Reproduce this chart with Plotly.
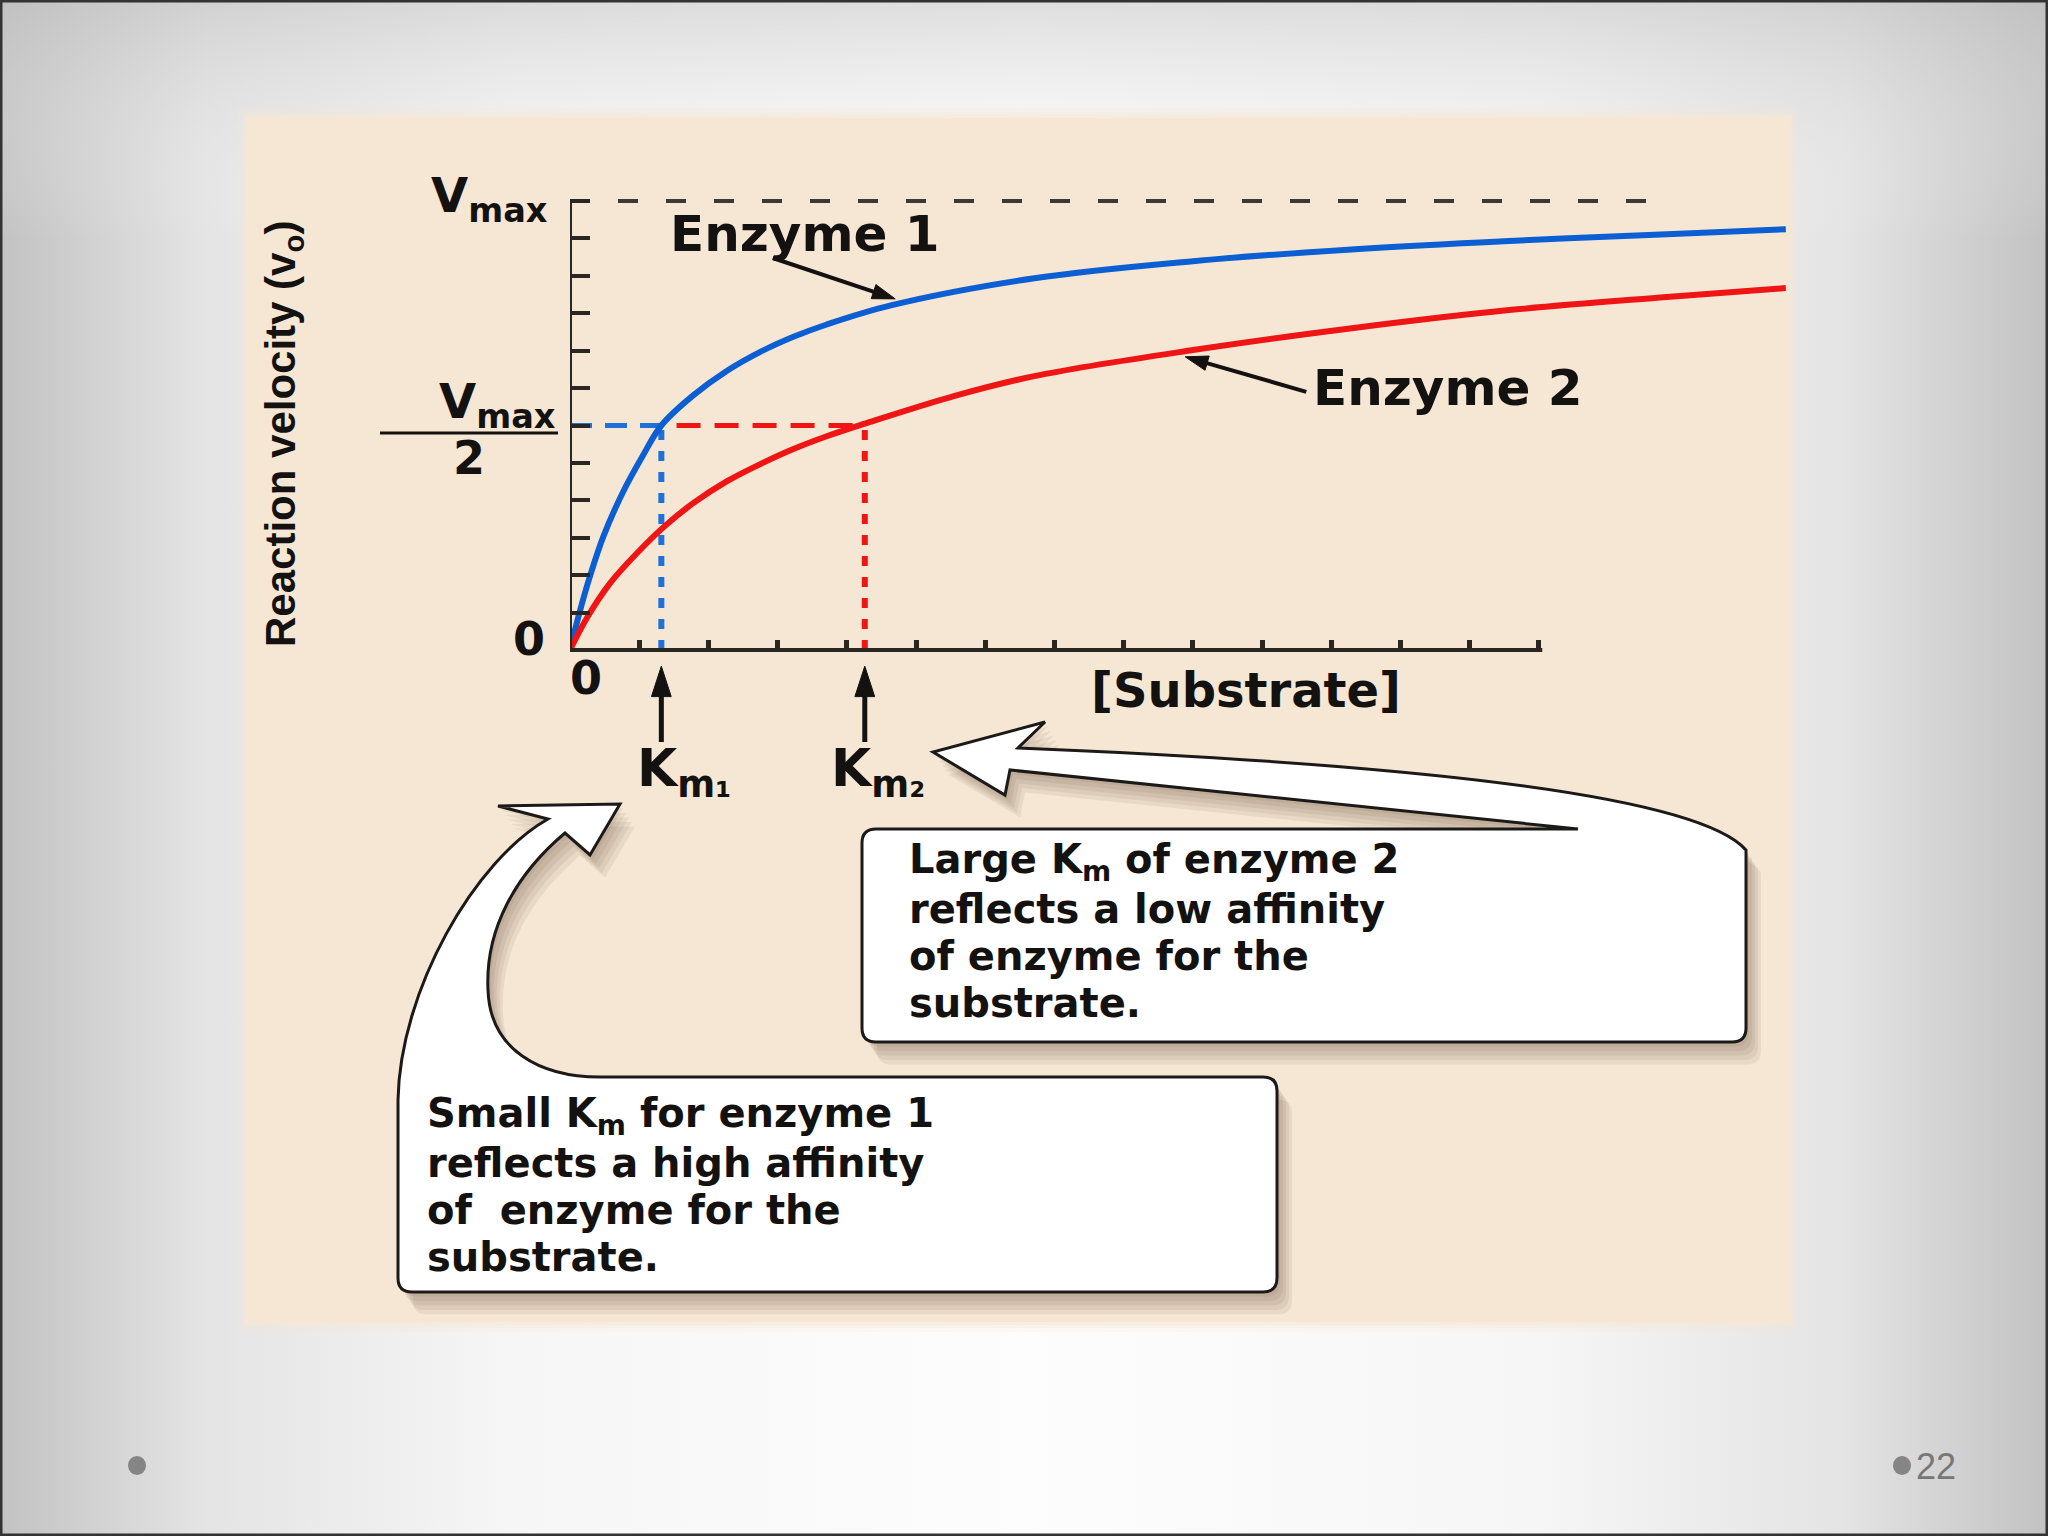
import plotly.graph_objects as go

# ---------------- data ----------------
substrate_ticks = list(range(1, 15))             # minor ticks on the [Substrate] axis
velocity_ticks = [k / 12 for k in range(1, 13)]  # minor ticks on the velocity axis
vmax = 1.0
half_vmax = 0.5
km1 = 1.32
km2 = 4.26
vmax_line_end = 15.74
x_axis_end = 14.05

enzyme1_s = [0, 0.14, 0.29, 0.48, 0.77, 1.05, 1.32, 1.78, 2.27, 2.75, 3.22, 3.71,
             4.65, 6.71, 9.0, 11.29, 13.57, 15.85, 17.57]
enzyme1_v = [0, 0.085, 0.165, 0.252, 0.353, 0.432, 0.500, 0.567, 0.622, 0.664, 0.697, 0.725,
             0.768, 0.828, 0.866, 0.892, 0.911, 0.926, 0.937]

enzyme2_s = [0, 0.25, 0.58, 0.97, 1.34, 1.78, 2.27, 2.75, 3.22, 3.71, 4.26,
             5.56, 6.71, 9.0, 11.27, 13.57, 15.85, 17.57]
enzyme2_v = [0, 0.073, 0.149, 0.216, 0.272, 0.327, 0.376, 0.414, 0.447, 0.476, 0.504,
             0.566, 0.610, 0.668, 0.716, 0.757, 0.786, 0.806]

series_names = ["Enzyme 1", "Enzyme 2"]
y_title = "Reaction velocity (v<sub>o</sub>)"
x_title = "[Substrate]"
vmax_label = "V<sub>max</sub>"
km_labels = ["K<sub>m₁</sub>", "K<sub>m₂</sub>"]
note_large = ["Large K<sub>m</sub> of enzyme 2",
              "reflects a low affinity",
              "of enzyme for the",
              "substrate."]
note_small = ["Small K<sub>m</sub> for enzyme 1",
              "reflects a high affinity",
              "of  enzyme for the",
              "substrate."]
page_number = "22"

# ---------------- layout constants ----------------
W, H = 2048, 1536
OX, OY = 570, 650        # pixel position of the chart origin
SX, SY = 69.2, 449       # pixels per data unit
XR = [0, 17.66]
YR = [-0.25, 1.03]

INK = "#141210"
AXIS = "#2a2622"
BLUE = "#0b5fd3"
BLUE_LIGHT = "#1f70d8"
RED = "#f01515"
BEIGE = "#f6e7d5"
FONT = "DejaVu Sans"

fig = go.Figure()

# slide background (pixel subplot, drawn first)
fig.add_trace(go.Scatter(
    x=[0, W, W, 0, 0], y=[0, 0, H, H, 0], xaxis="x", yaxis="y",
    mode="none", fill="toself", hoverinfo="skip", showlegend=False,
    fillgradient=dict(type="horizontal",
                      colorscale=[[0, "#c2c2c2"], [0.1, "#e4e4e4"], [0.25, "#f6f6f6"],
                                  [0.5, "#fdfdfd"], [0.75, "#f6f6f6"], [0.9, "#e4e4e4"],
                                  [1, "#c2c2c2"]])))
fig.add_trace(go.Scatter(
    x=[0, W, W, 0, 0], y=[0, 0, 240, 240, 0], xaxis="x", yaxis="y",
    mode="none", fill="toself", hoverinfo="skip", showlegend=False,
    fillgradient=dict(type="vertical", start=0, stop=240,
                      colorscale=[[0, "rgba(190,190,190,0.5)"], [1, "rgba(255,255,255,0)"]])))

# beige panel with soft edge
for grow, alpha in [(10, 0.18), (6, 0.3), (3, 0.5)]:
    x0, y0, x1, y1 = 248 - grow, 118 - grow, 1789 + grow, 1322 + grow
    fig.add_trace(go.Scatter(
        x=[x0, x1, x1, x0, x0], y=[y0, y0, y1, y1, y0], xaxis="x", yaxis="y",
        mode="none", fill="toself", fillcolor=f"rgba(246,231,213,{alpha})",
        hoverinfo="skip", showlegend=False))
fig.add_trace(go.Scatter(
    x=[248, 1789, 1789, 248, 248], y=[118, 118, 1322, 1322, 118], xaxis="x", yaxis="y",
    mode="none", fill="toself", fillcolor=BEIGE, hoverinfo="skip", showlegend=False))

# Michaelis-Menten curves
fig.add_trace(go.Scatter(x=enzyme1_s, y=enzyme1_v, xaxis="x2", yaxis="y2", mode="lines",
                         name=series_names[0], hoverinfo="skip", showlegend=False,
                         line=dict(color=BLUE, width=6, shape="spline", smoothing=1.0)))
fig.add_trace(go.Scatter(x=enzyme2_s, y=enzyme2_v, xaxis="x2", yaxis="y2", mode="lines",
                         name=series_names[1], hoverinfo="skip", showlegend=False,
                         line=dict(color=RED, width=6, shape="spline", smoothing=1.0)))


def arrow_trace(xs, ys, width, size):
    return go.Scatter(x=xs, y=ys, xaxis="x2", yaxis="y2", mode="lines+markers",
                      line=dict(color=INK, width=width), cliponaxis=False,
                      marker=dict(symbol="arrow", angleref="previous", size=[0, size],
                                  color=INK, opacity=1, line=dict(width=1, color=INK)),
                      hoverinfo="skip", showlegend=False)


# pointer arrows from the labels to the curves (tail -> tip)
fig.add_trace(arrow_trace([2.93, 4.70], [0.873, 0.782], 4, 24))
fig.add_trace(arrow_trace([10.64, 8.89], [0.575, 0.653], 4, 24))
# K_m arrows under the substrate axis
for km in (km1, km2):
    fig.add_trace(arrow_trace([km, km], [-0.205, -0.036], 5, 32))

shapes = []


def cline(x0, y0, x1, y1, color, width, dash=None, layer="below"):
    d = dict(type="line", xref="x2", yref="y2", x0=x0, y0=y0, x1=x1, y1=y1,
             line=dict(color=color, width=width), layer=layer)
    if dash:
        d["line"]["dash"] = dash
    return d


shapes.append(cline(0, vmax, vmax_line_end, vmax, "#3d3a36", 4, "20px,28px"))
shapes.append(cline(0, half_vmax, km1, half_vmax, BLUE_LIGHT, 5, "22px,13px"))
shapes.append(cline(km1 + 0.22, half_vmax, km2, half_vmax, RED, 5, "24px,14px"))
shapes.append(cline(km1, 0, km1, half_vmax, BLUE_LIGHT, 6, "10px,11px"))
shapes.append(cline(km2, 0, km2, half_vmax, RED, 6, "10px,11px"))
shapes.append(cline(0, 0, 0, vmax, AXIS, 4, layer="above"))
shapes.append(cline(0, 0, x_axis_end, 0, AXIS, 4, layer="above"))


def path(cmds, dx=0, dy=0):
    out = []
    for c, pts in cmds:
        if c == "Z":
            out.append("Z")
        else:
            out.append(c + " " + " ".join(f"{x + dx:.1f},{y + dy:.1f}" for x, y in pts))
    return " ".join(out)


callout_large = [("M", [(876, 829)]), ("L", [(1578, 829)]), ("L", [(1010, 770)]),
                 ("L", [(1005, 795)]), ("L", [(933, 752)]), ("L", [(1045, 722)]),
                 ("L", [(1018, 748)]), ("Q", [(1680, 775), (1746, 850)]),
                 ("L", [(1746, 1028)]), ("Q", [(1746, 1042), (1732, 1042)]),
                 ("L", [(876, 1042)]), ("Q", [(862, 1042), (862, 1028)]),
                 ("L", [(862, 843)]), ("Q", [(862, 829), (876, 829)]), ("Z", [])]
callout_small = [("M", [(398, 1100)]), ("C", [(400, 990), (475, 860), (548, 819)]),
                 ("L", [(498, 806)]), ("L", [(620, 804)]), ("L", [(590, 855)]),
                 ("L", [(565, 833)]), ("C", [(515, 875), (485, 930), (488, 990)]),
                 ("C", [(490, 1050), (540, 1077), (600, 1077)]), ("L", [(1263, 1077)]),
                 ("Q", [(1277, 1077), (1277, 1091)]), ("L", [(1277, 1278)]),
                 ("Q", [(1277, 1292), (1263, 1292)]), ("L", [(412, 1292)]),
                 ("Q", [(398, 1292), (398, 1278)]), ("Z", [])]

for cmds in (callout_small, callout_large):
    for k in range(1, 6):
        shapes.append(dict(type="path", xref="x", yref="y", path=path(cmds, 3 * k, 4.5 * k),
                           fillcolor="rgba(95,75,50,0.09)", line=dict(width=0), layer="above"))
for cmds in (callout_small, callout_large):
    shapes.append(dict(type="path", xref="x", yref="y", path=path(cmds),
                       fillcolor="white", line=dict(color="#1c1a18", width=3), layer="above"))

# fraction bar of Vmax/2
shapes.append(dict(type="line", xref="x", yref="y", x0=380, x1=558, y0=433, y1=433,
                   line=dict(color=INK, width=3), layer="above"))
# slide bullets and frame
for cx in (137, 1902):
    shapes.append(dict(type="circle", xref="x", yref="y", x0=cx - 9, x1=cx + 9,
                       y0=1456, y1=1475, fillcolor="#858585", line=dict(width=0), layer="above"))
shapes.append(dict(type="rect", xref="x", yref="y", x0=1, x1=W - 1, y0=1, y1=H - 1,
                   line=dict(color="#333333", width=3), fillcolor="rgba(0,0,0,0)", layer="above"))

ann = []


def text(t, x, y, size, xref="x", yref="y", xanchor="center", yanchor="middle",
         family=FONT, color=INK, weight="bold", **kw):
    d = dict(text=t, x=x, y=y, xref=xref, yref=yref, showarrow=False,
             xanchor=xanchor, yanchor=yanchor,
             font=dict(family=family, size=size, color=color, weight=weight))
    d.update(kw)
    return d


ann.append(text(y_title, 283, 434, 42, family="Liberation Sans", textangle=-90))
ann.append(text(vmax_label, 0, vmax, 48, "x2", "y2", xanchor="right", xshift=-20, yshift=2))
ann.append(text(vmax_label, 0, half_vmax, 48, "x2", "y2", xanchor="right", xshift=-12, yshift=21))
ann.append(text("2", 0, half_vmax, 46, "x2", "y2", xshift=-101, yshift=-32))
ann.append(text("0", 0, 0, 46, "x2", "y2", xshift=-41, yshift=11))
ann.append(text("0", 0, 0, 46, "x2", "y2", xshift=16, yshift=-28))
ann.append(text(x_title, 1246, 690, 48))
ann.append(text(series_names[0], 805, 234, 50))
ann.append(text(series_names[1], 1311, 388, 50, xanchor="left"))

for km, lab, sh in zip((km1, km2), km_labels, (23, 13)):
    ann.append(text(lab, km, 0, 52, "x2", "y2", xshift=sh, yshift=-122))

for lines, x0, ys in ((note_large, 907, [862, 909, 956, 1003]),
                      (note_small, 425, [1116, 1163, 1210, 1257])):
    for line, y in zip(lines, ys):
        ann.append(text(line, x0, y, 40, xanchor="left"))

ann.append(text(page_number, 1936, 1466, 36, family="Liberation Sans", color="#777777",
                weight="normal"))

y2_bottom = OY - YR[0] * SY
y2_top = OY - YR[1] * SY
fig.update_layout(
    width=W, height=H, margin=dict(l=0, r=0, t=0, b=0),
    paper_bgcolor="white", plot_bgcolor="rgba(0,0,0,0)",
    showlegend=False, hovermode=False, dragmode=False,
    xaxis=dict(range=[0, W], domain=[0, 1], visible=False, fixedrange=True),
    yaxis=dict(range=[H, 0], domain=[0, 1], visible=False, fixedrange=True),
    xaxis2=dict(range=XR, domain=[OX / W, (OX + XR[1] * SX) / W],
                anchor="free", position=1 - OY / H,
                showgrid=False, zeroline=False, showline=False, showticklabels=False,
                tickmode="array", tickvals=substrate_ticks, ticks="inside",
                ticklen=10, tickwidth=5, tickcolor=AXIS, fixedrange=True),
    yaxis2=dict(range=YR, domain=[1 - y2_bottom / H, 1 - y2_top / H], anchor="x2",
                showgrid=False, zeroline=False, showline=False, showticklabels=False,
                tickmode="array", tickvals=velocity_ticks, ticks="inside",
                ticklen=20, tickwidth=4, tickcolor=AXIS, fixedrange=True),
    shapes=shapes, annotations=ann,
)

fig.write_html("out.html", config={"displayModeBar": False, "staticPlot": True},
               post_script="document.body.style.margin='0';document.body.style.overflow='hidden';")
